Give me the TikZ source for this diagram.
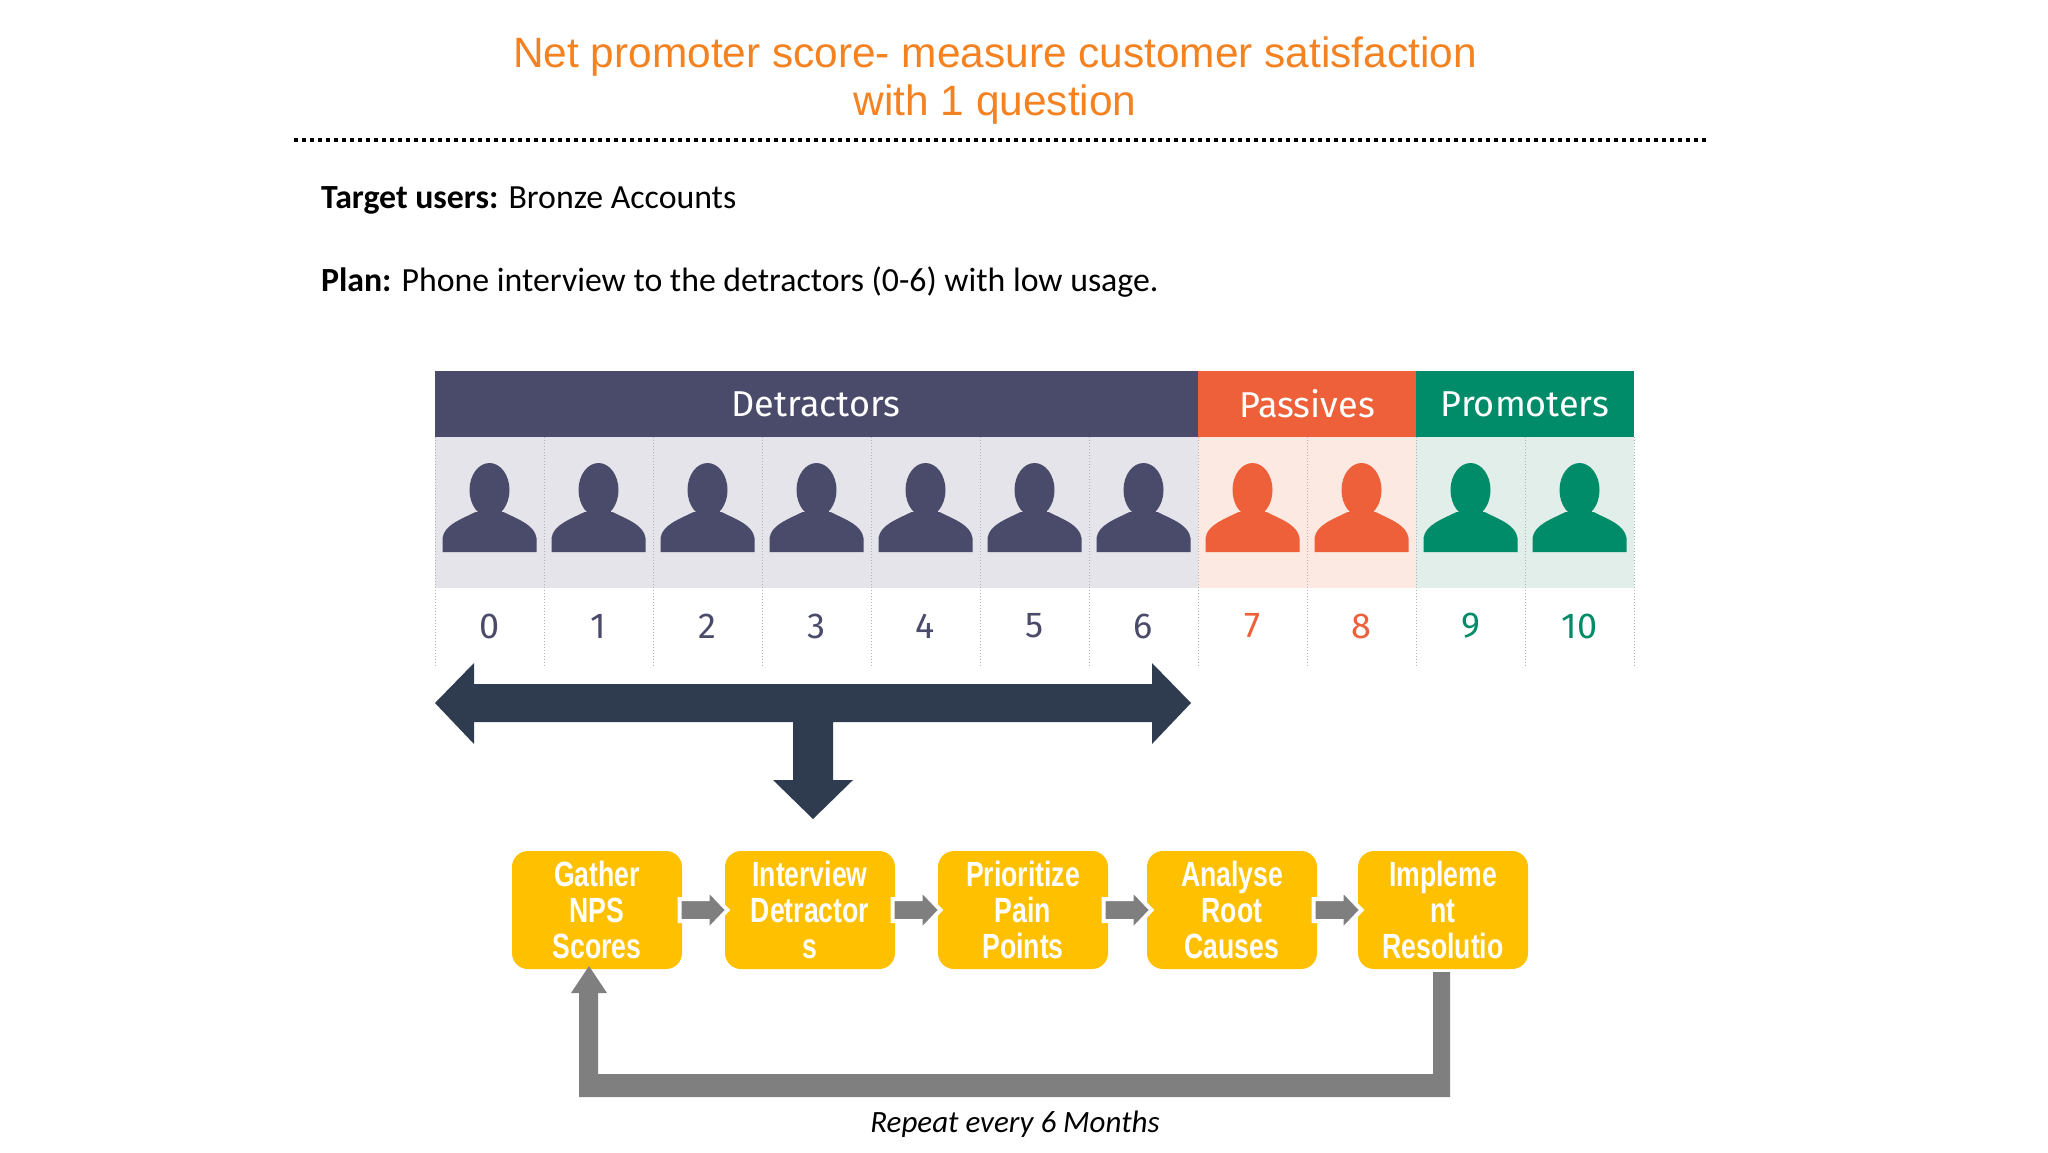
\documentclass[tikz,border=0pt]{standalone}
\usepackage{fontspec}
\setmainfont{Carlito}
\newfontfamily\arialf{Liberation Sans}
\newfontfamily\narrowf{Liberation Sans}[FakeStretch=0.76]
\newfontfamily\firaf{Fira Sans}
\begin{document}
\begin{tikzpicture}[x=0.5pt,y=-0.5pt,
  title/.style={font=\arialf\fontsize{21.2}{24}\selectfont,text=ttl,align=center},
  box/.style={fill=yel,rounded corners=8pt,minimum width=85pt,minimum height=59pt,inner sep=0pt,font=\narrowf\bfseries\fontsize{17.5}{18}\selectfont,text=white,align=center},
  hdr/.style={font=\firaf\fontsize{18}{20}\selectfont,text=white},
  num/.style={font=\firaf\fontsize{18}{20}\selectfont}]
\definecolor{ttl}{HTML}{F58220}
\definecolor{dk}{HTML}{4A4B6A}
\definecolor{dkbg}{HTML}{E4E4EA}
\definecolor{org}{HTML}{EE6039}
\definecolor{orgbg}{HTML}{FCE9E1}
\definecolor{grn}{HTML}{008C69}
\definecolor{grnbg}{HTML}{E2EEE9}
\definecolor{arr}{HTML}{2F3B4F}
\definecolor{yel}{HTML}{FFC000}
\definecolor{gry}{HTML}{7F7F7F}
\useasboundingbox (0,0) rectangle (2048,1152);
\fill[white] (0,0) rectangle (2048,1152);
\node[title] (t) at (995,81) {Net promoter score- measure customer satisfaction\\with 1 question};
\draw[line width=2pt,dotted] (294,140) -- (1707,140);
\node[anchor=west,font=\fontsize{16.9}{18}\selectfont] (tu) at (314,200) {\textbf{Target users:} Bronze Accounts};
\node[anchor=west,font=\fontsize{16.9}{18}\selectfont] (pl) at (314,282) {\textbf{Plan:} Phone interview to the detractors (0-6) with low usage.};
% header
\fill[dk] (435,371) rectangle (1198,437);
\fill[org] (1198,371) rectangle (1416,437);
\fill[grn] (1416,371) rectangle (1634,437);
\node[hdr] (hd) at (816,404) {Detractors};
\node[hdr] (hp) at (1307,404) {Passives};
\node[hdr] (hr) at (1525,404) {Promoters};
\fill[dkbg] (435,437) rectangle (1198,588);
\fill[orgbg] (1198,437) rectangle (1416,588);
\fill[grnbg] (1416,437) rectangle (1634,588);
\foreach \i in {0,...,11}{\draw[gray!60,densely dotted,line width=0.5pt] ({435+\i*109},437) -- ({435+\i*109},666);}
\foreach \i/\c in {0/dk,1/dk,2/dk,3/dk,4/dk,5/dk,6/dk,7/org,8/org,9/grn,10/grn}{
  \pgfmathsetmacro\cx{489.5+\i*109}
  \fill[\c] (\cx,490) ellipse (20 and 27);
  \fill[\c] (\cx-12,500) rectangle (\cx+12,525);
  \fill[\c] (\cx-47,552) -- (\cx-47,538) .. controls (\cx-45,525) and (\cx-30,520) .. (\cx-14,512) -- (\cx+14,512) .. controls (\cx+30,520) and (\cx+45,525) .. (\cx+47,538) -- (\cx+47,552) -- cycle;
  \node[num,text=\c] (n\i) at (\cx,626) {\i};
}
% big arrow
\fill[arr] (435,703) -- (474,663) -- (474,684) -- (1152,684) -- (1152,663) -- (1191,703) -- (1152,744) -- (1152,722) -- (833,722) -- (833,780) -- (853,780) -- (813,819) -- (773,780) -- (793,780) -- (793,722) -- (474,722) -- (474,744) -- cycle;
% boxes
\node[box] (b1) at (597,910) {Gather\\NPS\\Scores};
\node[box] (b2) at (810,910) {Interview\\Detractor\\s};
\node[box] (b3) at (1023,910) {Prioritize\\Pain\\Points};
\node[box] (b4) at (1232,910) {Analyse\\Root\\Causes};
\node[box] (b5) at (1443,910) {Impleme\\nt\\Resolutio};
\foreach \a/\b in {b1/b2,b2/b3,b3/b4,b4/b5}{
  \path (\a.east) -- (\b.west) coordinate[pos=0.5] (m);
  \fill[gry,draw=white,line width=2pt] ([xshift=-12pt]m) ++(0,-11) -- ++(28,0) -- ++(0,-10) -- ++(20,21) -- ++(-20,21) -- ++(0,-10) -- ++(-28,0) -- cycle;
}
% loop arrow
\fill[gry] (1433,972) -- (1450,972) -- (1450,1097) -- (579,1097) -- (579,993) -- (571,993) -- (589,966) -- (607,993) -- (598,993) -- (598,1074) -- (1433,1074) -- cycle;
\node[font=\itshape\fontsize{15.5}{17}\selectfont] (rp) at (1015,1124) {Repeat every 6 Months};
\end{tikzpicture}
\end{document}
